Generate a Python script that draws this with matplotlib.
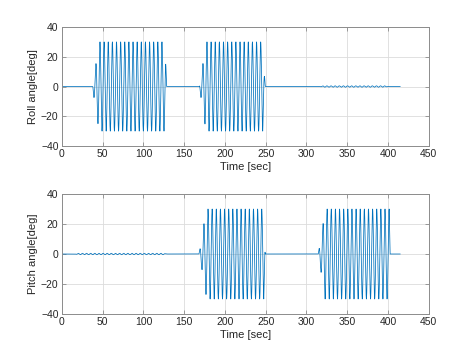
import numpy as np
import matplotlib
matplotlib.use("Agg")
import matplotlib.pyplot as plt

# ---- data ----
t_end = 415.0          # seconds of record
period = 5.07          # oscillation period [s]

# Roll bursts: envelope key points (time [s], amplitude [deg]) and first full-peak time
roll_b1_t = [37.5, 39.0, 41.5, 44.1, 46.6, 122.7, 125.2, 126.8, 128.4]
roll_b1_a = [0.0, 7.0, 15.0, 25.0, 30.0, 30.0, 30.0, 25.0, 0.0]
roll_b1_peak = 46.6
roll_b2_t = [168.5, 170.3, 172.8, 175.3, 177.9, 243.8, 246.3, 247.9, 249.5]
roll_b2_a = [0.0, 7.0, 15.0, 25.0, 30.0, 30.0, 30.0, 12.0, 0.0]
roll_b2_peak = 177.9
roll_rip_t = [316.0, 320.0, 396.0, 400.0]
roll_rip_a = [0.0, 0.45, 0.45, 0.0]

# Pitch bursts
pitch_b1_t = [168.0, 169.1, 171.6, 174.1, 176.7, 179.2, 245.1, 247.6, 249.4]
pitch_b1_a = [0.0, 3.0, 10.0, 20.0, 27.0, 30.0, 30.0, 30.0, 0.0]
pitch_b1_peak = 179.2
pitch_b2_t = [314.5, 315.3, 317.8, 320.3, 322.9, 325.4, 401.5, 402.7]
pitch_b2_a = [0.0, 3.0, 12.0, 20.0, 30.0, 30.0, 30.0, 0.0]
pitch_b2_peak = 325.4
pitch_rip_t = [16.0, 20.0, 124.0, 128.0]
pitch_rip_a = [0.0, 0.45, 0.45, 0.0]

x_ticks = [0, 50, 100, 150, 200, 250, 300, 350, 400, 450]
y_ticks = [-40, -20, 0, 20, 40]


def burst(t, env_t, env_a, t_peak):
    env = np.interp(t, env_t, env_a, left=0.0, right=0.0)
    return env * np.cos(2 * np.pi * (t - t_peak) / period)


t = np.arange(0.0, t_end, 0.02)
roll = (burst(t, roll_b1_t, roll_b1_a, roll_b1_peak)
        + burst(t, roll_b2_t, roll_b2_a, roll_b2_peak)
        + burst(t, roll_rip_t, roll_rip_a, roll_rip_t[1]))
pitch = (burst(t, pitch_b1_t, pitch_b1_a, pitch_b1_peak)
         + burst(t, pitch_b2_t, pitch_b2_a, pitch_b2_peak)
         + burst(t, pitch_rip_t, pitch_rip_a, pitch_rip_t[1]))

plt.rcParams['font.family'] = ['Liberation Sans', 'DejaVu Sans']
fig = plt.figure(figsize=(4.74, 3.55), dpi=100)
fig.patch.set_facecolor('white')

ax1 = fig.add_axes([0.1308, 0.5887, 0.7736, 0.3352])
ax2 = fig.add_axes([0.1308, 0.1155, 0.7736, 0.3380])

line_color = '#0072BD'
for ax, y, lab in [(ax1, roll, 'Roll angle[deg]'), (ax2, pitch, 'Pitch angle[deg]')]:
    ax.plot(t, y, color=line_color, linewidth=0.55)
    ax.set_xlim(0, 450)
    ax.set_ylim(-40, 40)
    ax.set_xticks(x_ticks)
    ax.set_yticks(y_ticks)
    ax.grid(True, color='#dcdcdc', linewidth=0.6)
    ax.set_axisbelow(True)
    for s in ax.spines.values():
        s.set_color('#8c8c8c')
        s.set_linewidth(0.7)
    ax.tick_params(direction='in', top=True, right=True, length=3, width=0.6,
                   color='#8c8c8c', labelsize=7.5, labelcolor='#262626', pad=2.5)
    ax.set_xlabel('Time [sec]', fontsize=8, color='#262626', labelpad=1.5)
    ax.set_ylabel(lab, fontsize=8, color='#262626', labelpad=2)

fig.savefig('out.png', dpi=100, facecolor='white')
